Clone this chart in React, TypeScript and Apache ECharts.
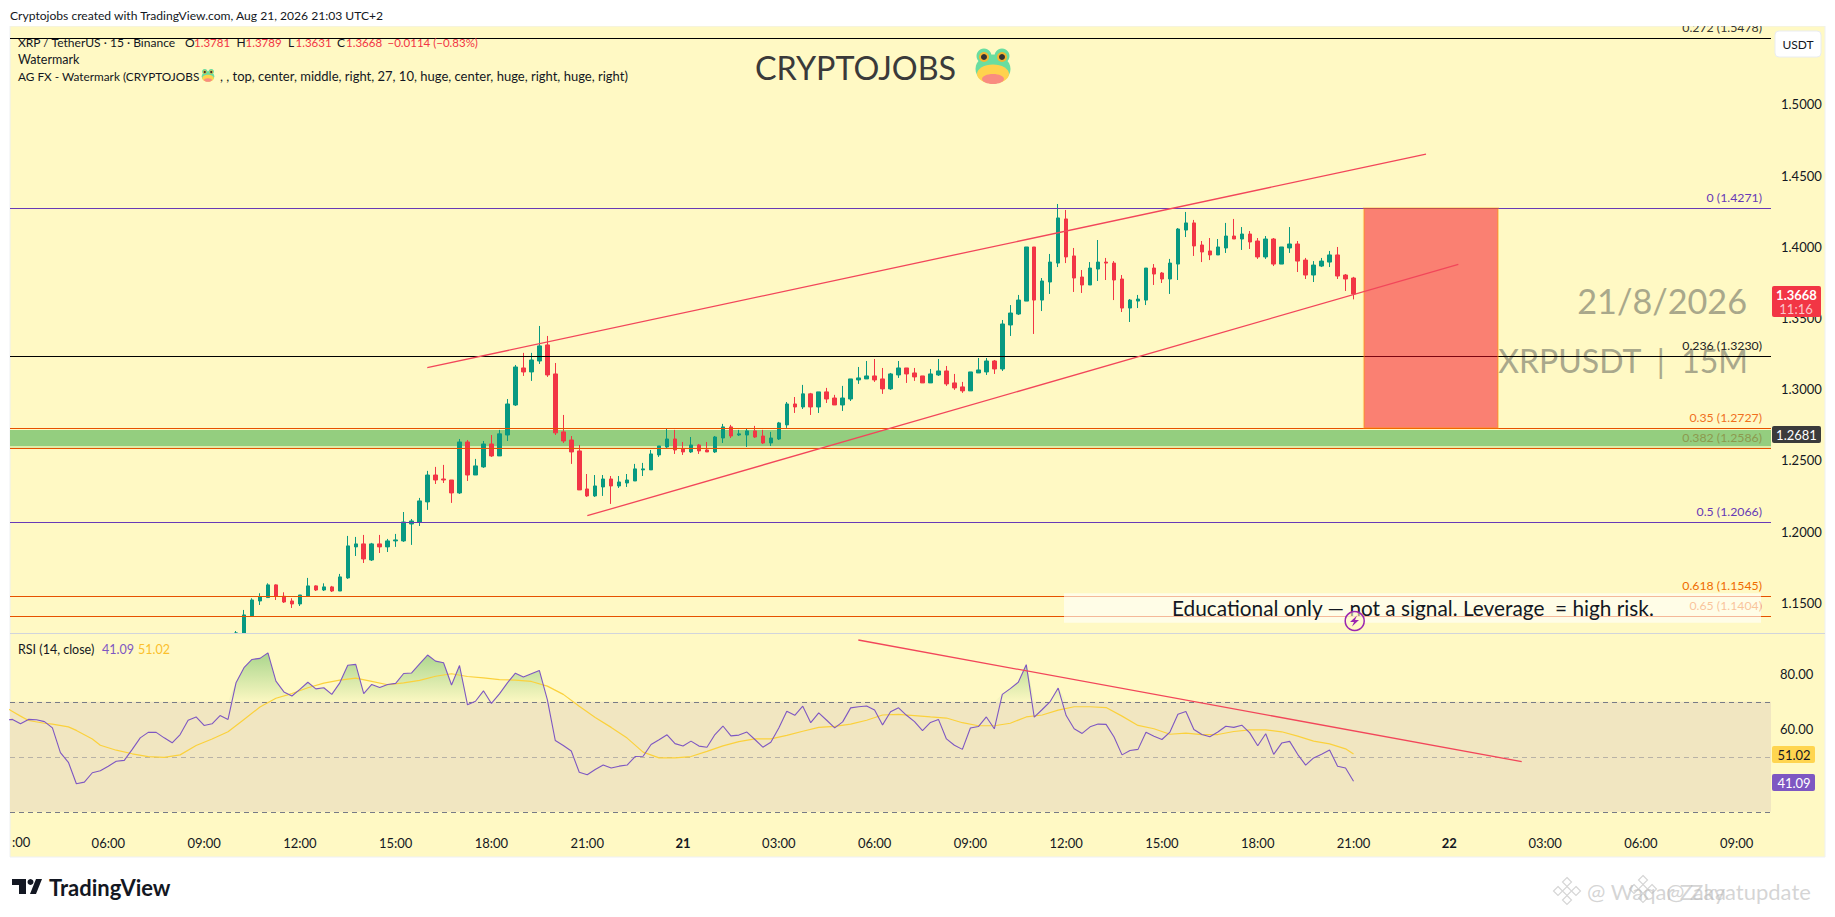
import React, { useEffect, useRef } from "react";
import * as echarts from "echarts";

// ---------- data ----------
const firstCandleIndex = 16; // index 0 = 20 Aug 06:00, one step = 15 minutes
// [open, close, low, high]; the first two run off the bottom of the price pane, so only their visible part is given
const candleRows: number[][] = [
  [1.1287,1.1287,1.1287,1.1301],[1.1287,1.1414,1.1287,1.1449],[1.1407,1.1519,1.1407,1.1531],[1.1512,1.1540,1.1484,1.1566],
  [1.1536,1.1625,1.1536,1.1636],[1.1625,1.1545,1.1519,1.1629],[1.1545,1.1505,1.1498,1.1573],[1.1512,1.1491,1.1463,1.1531],
  [1.1491,1.1554,1.1477,1.1554],[1.1547,1.1618,1.1547,1.1674],[1.1618,1.1589,1.1582,1.1622],[1.1589,1.1611,1.1582,1.1636],
  [1.1611,1.1582,1.1575,1.1618],[1.1582,1.1681,1.1582,1.1702],[1.1674,1.1899,1.1667,1.1969],[1.1892,1.1913,1.1828,1.1962],
  [1.1913,1.1807,1.1779,1.1976],[1.1800,1.1913,1.1793,1.1920],[1.1913,1.1892,1.1849,1.1976],[1.1892,1.1934,1.1856,1.1948],
  [1.1934,1.1941,1.1892,1.1983],[1.1934,1.2067,1.1927,1.2137],[1.2053,1.2074,1.1906,1.2088],[1.2067,1.2215,1.2039,1.2236],
  [1.2208,1.2397,1.2152,1.2426],[1.2397,1.2362,1.2334,1.2454],[1.2369,1.2362,1.2341,1.2468],[1.2362,1.2271,1.2201,1.2362],
  [1.2271,1.2629,1.2264,1.2650],[1.2629,1.2397,1.2355,1.2643],[1.2397,1.2461,1.2397,1.2510],[1.2454,1.2615,1.2447,1.2636],
  [1.2615,1.2531,1.2524,1.2678],[1.2531,1.2686,1.2531,1.2714],[1.2678,1.2896,1.2636,1.2931],[1.2889,1.3156,1.2882,1.3170],
  [1.3149,1.3121,1.3093,1.3255],[1.3121,1.3205,1.3058,1.3255],[1.3198,1.3304,1.3177,1.3444],[1.3311,1.3100,1.3086,1.3374],
  [1.3107,1.2693,1.2678,1.3184],[1.2700,1.2636,1.2622,1.2819],[1.2643,1.2559,1.2475,1.2671],[1.2566,1.2292,1.2292,1.2608],
  [1.2299,1.2250,1.2243,1.2404],[1.2250,1.2320,1.2243,1.2397],[1.2313,1.2369,1.2250,1.2397],[1.2369,1.2320,1.2194,1.2390],
  [1.2320,1.2348,1.2306,1.2390],[1.2341,1.2362,1.2313,1.2404],[1.2355,1.2440,1.2355,1.2475],[1.2433,1.2440,1.2390,1.2482],
  [1.2433,1.2545,1.2433,1.2573],[1.2538,1.2601,1.2524,1.2601],[1.2594,1.2650,1.2587,1.2721],[1.2650,1.2573,1.2545,1.2714],
  [1.2580,1.2559,1.2538,1.2629],[1.2559,1.2608,1.2552,1.2664],[1.2608,1.2566,1.2545,1.2615],[1.2573,1.2559,1.2559,1.2629],
  [1.2559,1.2664,1.2552,1.2671],[1.2657,1.2735,1.2622,1.2756],[1.2735,1.2671,1.2657,1.2749],[1.2678,1.2686,1.2671,1.2714],
  [1.2678,1.2707,1.2594,1.2721],[1.2707,1.2664,1.2657,1.2742],[1.2671,1.2622,1.2615,1.2714],[1.2622,1.2657,1.2601,1.2700],
  [1.2650,1.2763,1.2643,1.2770],[1.2749,1.2896,1.2728,1.2910],[1.2896,1.2875,1.2833,1.2945],[1.2875,1.2967,1.2861,1.3030],
  [1.2967,1.2875,1.2819,1.2974],[1.2875,1.2981,1.2833,1.2981],[1.2981,1.2931,1.2903,1.3009],[1.2938,1.2889,1.2889,1.2960],
  [1.2889,1.2938,1.2847,1.3023],[1.2931,1.3072,1.2917,1.3072],[1.3065,1.3079,1.3037,1.3156],[1.3072,1.3093,1.3072,1.3198],
  [1.3093,1.3065,1.3051,1.3212],[1.3072,1.3002,1.2967,1.3149],[1.3002,1.3107,1.2995,1.3114],[1.3100,1.3149,1.3079,1.3198],
  [1.3149,1.3107,1.3044,1.3149],[1.3114,1.3086,1.3058,1.3149],[1.3093,1.3044,1.3044,1.3093],[1.3044,1.3107,1.3044,1.3142],
  [1.3100,1.3128,1.3093,1.3212],[1.3128,1.3037,1.3023,1.3163],[1.3044,1.3009,1.2995,1.3107],[1.3016,1.2988,1.2974,1.3051],
  [1.2988,1.3121,1.2988,1.3121],[1.3114,1.3135,1.3114,1.3219],[1.3121,1.3198,1.3100,1.3219],[1.3198,1.3142,1.3107,1.3205],
  [1.3142,1.3458,1.3128,1.3486],[1.3451,1.3535,1.3374,1.3591],[1.3528,1.3626,1.3521,1.3662],[1.3619,1.3999,1.3619,1.3999],
  [1.3999,1.3626,1.3388,1.3999],[1.3626,1.3760,1.3549,1.3781],[1.3753,1.3893,1.3669,1.3950],[1.3886,1.4203,1.3858,1.4301],
  [1.4196,1.3929,1.3886,1.4259],[1.3936,1.3781,1.3683,1.3992],[1.3788,1.3732,1.3676,1.3837],[1.3732,1.3851,1.3732,1.3893],
  [1.3844,1.3893,1.3760,1.4048],[1.3893,1.3886,1.3767,1.3922],[1.3886,1.3767,1.3626,1.3900],[1.3774,1.3570,1.3542,1.3802],
  [1.3570,1.3626,1.3472,1.3633],[1.3619,1.3633,1.3570,1.3662],[1.3626,1.3851,1.3591,1.3851],[1.3851,1.3809,1.3732,1.3879],
  [1.3816,1.3774,1.3746,1.3823],[1.3774,1.3886,1.3669,1.3915],[1.3879,1.4125,1.3767,1.4132],[1.4118,1.4168,1.4069,1.4245],
  [1.4168,1.4006,1.3936,1.4189],[1.4013,1.3964,1.3893,1.4041],[1.3971,1.3943,1.3907,1.4062],[1.3943,1.3999,1.3943,1.4055],
  [1.3992,1.4076,1.3957,1.4168],[1.4076,1.4055,1.4055,1.4196],[1.4055,1.4090,1.3978,1.4139],[1.4090,1.4034,1.3985,1.4111],
  [1.4041,1.3929,1.3915,1.4062],[1.3929,1.4055,1.3915,1.4076],[1.4055,1.3879,1.3865,1.4062],[1.3879,1.3999,1.3879,1.3999],
  [1.3992,1.4020,1.3957,1.4139],[1.4020,1.3900,1.3823,1.4041],[1.3907,1.3802,1.3774,1.3922],[1.3802,1.3872,1.3753,1.3900],
  [1.3865,1.3900,1.3858,1.3922],[1.3893,1.3943,1.3858,1.3971],[1.3943,1.3795,1.3774,1.3999],[1.3802,1.3774,1.3690,1.3809],
  [1.3781,1.3668,1.3631,1.3789],
];

const firstRsiIndex = -13;
const rsiValues: number[] = [
  63.3,63.6,62.0,63.6,63.5,62.8,60.5,51.5,48.0,40.2,40.8,44.2,44.9,46.6,48.4,48.7,52.7,56.9,58.9,58.9,
  56.9,55.1,58.1,63.3,64.5,61.4,62.0,65.0,63.6,76.9,82.4,85.4,85.8,87.8,77.5,73.6,72.1,74.5,77.1,74.7,
  75.1,72.7,76.9,83.3,83.6,73.0,76.3,75.2,76.3,76.7,80.3,80.5,83.8,87.0,84.8,84.2,76.1,83.2,68.9,70.2,
  74.0,69.4,72.9,76.9,80.4,79.0,80.2,81.4,70.8,55.9,54.1,52.1,44.4,43.5,45.4,47.0,45.9,46.6,47.0,50.1,
  50.2,54.5,56.2,58.0,54.8,53.9,55.7,53.9,53.5,58.1,61.2,57.6,57.9,59.0,56.3,53.5,55.3,60.5,66.6,65.1,
  68.4,62.4,66.0,63.3,60.5,62.7,67.8,68.2,68.5,67.0,61.6,66.4,67.8,65.1,62.8,59.5,62.5,63.6,56.5,54.2,
  52.7,60.5,61.0,64.5,60.2,72.7,74.8,77.1,83.5,64.4,67.2,70.1,75.0,65.0,60.2,58.5,60.9,61.9,61.8,57.2,
  50.7,52.3,52.7,58.9,57.5,56.3,59.0,65.5,66.5,59.9,58.1,57.3,59.0,61.1,60.7,61.5,58.7,54.0,58.4,50.9,
  55.0,55.6,50.9,47.0,49.6,50.9,52.5,46.6,45.9,41.09,
];
const rsiMaIndex: number[] = [
  -13,-12,-11,-10,-8,-7,-5,-4,-2,-1,1,3,5,7,9,11,13,15,17,19,21,23,25,27,29,31,33,35,37,39,41,43,45,47,49,51,53,55,57,59,61,63,
  65,67,69,71,73,75,77,79,81,83,85,87,89,91,93,95,97,99,101,103,105,107,109,111,113,115,117,119,121,123,125,127,129,131,133,135,137,139,
  141,143,145,147,149,151,153,155,156,
];
const rsiMaValues: number[] = [
  68.2,66.5,64.8,63.2,62.2,61.9,60.9,59.6,56.5,54.2,52.4,51.1,50.1,49.8,50.7,54.1,56.5,59.1,63.6,68.1,71.3,73.0,75.1,76.8,77.9,78.6,77.4,76.2,76.9,77.8,79.3,80.2,79.2,78.7,78.1,77.9,77.4,75.7,72.7,68.4,64.3,60.7,
  56.8,51.7,49.6,49.6,50.1,52.0,54.0,55.5,56.5,56.5,57.8,59.3,60.7,61.1,61.9,63.3,65.2,65.4,65.0,64.5,64.1,62.4,61.3,61.3,62.2,64.5,65.2,67.0,68.2,68.2,67.9,64.8,61.4,60.2,58.2,58.6,58.1,58.1,
  59.2,59.8,59.8,59.1,57.5,55.7,54.7,52.9,51.02,
];

const fibNames = ["0.272 (1.5478)","0 (1.4271)","0.236 (1.3230)","0.35 (1.2727)","0.382 (1.2586)","0.5 (1.2066)","0.618 (1.1545)","0.65 (1.1404)"];
const fibPrices = [1.5465,1.4271,1.3230,1.2727,1.2586,1.2066,1.1545,1.1404];
const hiddenFibName = "0.786 (1.1175)";

const upperChannelIndex = [39.96,165.08];
const upperChannelPrice = [1.3151,1.4652];
const lowerChannelIndex = [60.01,169.13];
const lowerChannelPrice = [1.2111,1.3877];
const rsiTrendIndex = [93.96,177.07];
const rsiTrendValue = [92.47,48.22];

const priceTicks = [1.15,1.2,1.25,1.3,1.35,1.4,1.45,1.5];
const rsiTicks = [60,80];
const rsiLevels = [70,50,30];
const timeTickIndex = [0,12,24,36,48,60,72,84,96,108,120,132,144,156,168,180,192,204];
const timeTickLabels = ["06:00","09:00","12:00","15:00","18:00","21:00","21","03:00","06:00","09:00","12:00","15:00","18:00","21:00","22","03:00","06:00","09:00"];

const zoneIndex = [157.3,174.1];
const zonePrice = [1.4271,1.2727];
const bandPrice = [1.2713,1.2601,1.2587];
const noticeIndex = [119.73,207.05];
const noticePrice = [1.1566,1.1359];

// ---------- styles ----------
const FONT = "Lato, 'Noto Sans', sans-serif";
const PANE = "#FFF9C4";
const UP = "#089981";
const DOWN = "#F23645";
const PURPLE = "#673AB7";
const ORANGE = "#E65100";
const fibLineColors = ["#000000",PURPLE,"#000000",ORANGE,ORANGE,PURPLE,ORANGE,ORANGE];
const fibLabelColors = ["#333333",PURPLE,"#222222","#F0701E","#8C9A4E",PURPLE,"#EF6C00","#EF6C00"];
const X_MIN = -12.315;
const X_MAX = 208.3;

const T = (text: string, x: number, y: number, size: number, fill: string, z = 20, align = "left", weight: any = "normal") => ({
  type: "text", x, y, z, silent: true,
  style: { text, fill, fontSize: size, fontFamily: FONT, fontWeight: weight, align, verticalAlign: "middle" },
});

const frog = (x: number, y: number, s: number, z: number) => ({
  type: "group", x, y, scaleX: s, scaleY: s, silent: true,
  children: [
    { type: "circle", z, shape: { cx: -9, cy: -12, r: 7.5 }, style: { fill: "#69DDA0" } },
    { type: "circle", z, shape: { cx: 9, cy: -12, r: 7.5 }, style: { fill: "#69DDA0" } },
    { type: "ellipse", z: z + 1, shape: { cx: 0, cy: 1, rx: 17.5, ry: 14.5 }, style: { fill: "#69DDA0" } },
    { type: "ellipse", z: z + 2, shape: { cx: 0, cy: 6, rx: 16, ry: 9.5 }, style: { fill: "#FFD24D" } },
    { type: "ellipse", z: z + 3, shape: { cx: 0, cy: 11, rx: 11, ry: 5 }, style: { fill: "#F98C80" } },
    { type: "circle", z: z + 4, shape: { cx: -9, cy: -11, r: 5 }, style: { fill: "#F2B632" } },
    { type: "circle", z: z + 4, shape: { cx: 9, cy: -11, r: 5 }, style: { fill: "#F2B632" } },
    { type: "circle", z: z + 5, shape: { cx: -9, cy: -11, r: 3 }, style: { fill: "#333333" } },
    { type: "circle", z: z + 5, shape: { cx: 9, cy: -11, r: 3 }, style: { fill: "#333333" } },
  ],
});

const diamond = (cx: number, cy: number) => ({
  type: "group", x: cx, y: cy, silent: true,
  children: [[0, -9], [-9, 0], [9, 0], [0, 9], [0, 0]].map(([dx, dy]) => ({
    type: "polygon", z: 3,
    shape: { points: [[dx, dy - 4.5], [dx + 4.5, dy], [dx, dy + 4.5], [dx - 4.5, dy]] },
    style: { fill: "none", stroke: "#D6D6D6", lineWidth: 1.2 },
  })),
});

const tag = (x: number, y: number, w: number, h: number, fill: string) => ({
  type: "rect", z: 18, silent: true, shape: { x, y, width: w, height: h, r: 2 }, style: { fill },
});

function buildOption() {
  const candleData = candleRows.map((r, i) => [firstCandleIndex + i, r[0], r[1], r[2], r[3]]);
  const rsiData = rsiValues.map((v, i) => [firstRsiIndex + i, v]);
  const rsiTop = rsiValues.map((v, i) => [firstRsiIndex + i, Math.max(v, 70)]);
  const maData = rsiMaValues.map((v, i) => [rsiMaIndex[i], v]);
  const timeLabelOf: Record<number, string> = {};
  timeTickIndex.forEach((t, i) => (timeLabelOf[t] = timeTickLabels[i]));

  const graphic: any[] = [
    { type: "rect", z: -5, silent: true, shape: { x: 10, y: 26, width: 1815, height: 831 }, style: { fill: PANE, stroke: "#EEF0F3", lineWidth: 1 } },
    // cover for the label that runs off the top of the pane
    { type: "rect", z: 8, silent: true, shape: { x: 0, y: 0, width: 1835, height: 26 }, style: { fill: "#FFFFFF" } },
    T("Cryptojobs created with TradingView.com, Aug 21, 2026 21:03 UTC+2", 10, 15, 12.1, "#131722", 9),
    // legend
    T("XRP / TetherUS · 15 · Binance", 18, 42, 12.05, "#131722", 9),
    T("O", 185, 42, 12, "#131722", 9),
    T("1.3781", 194, 42, 11.5, DOWN, 9),
    T("H", 236.6, 42, 12, "#131722", 9),
    T("1.3789", 245.5, 42, 11.5, DOWN, 9),
    T("L", 288, 42, 12, "#131722", 9),
    T("1.3631", 295.5, 42, 11.5, DOWN, 9),
    T("C", 337, 42, 12, "#131722", 9),
    T("1.3668", 346, 42, 11.5, DOWN, 9),
    T("−0.0114 (−0.83%)", 387.5, 42, 11.5, DOWN, 9),
    T("Watermark", 18, 59, 12.5, "#131722", 9),
    T("AG FX - Watermark (CRYPTOJOBS", 18, 76, 11.8, "#131722", 9),
    frog(208, 76, 0.36, 9),
    T(", , top, center, middle, right, 27, 10, huge, center, huge, right, huge, right)", 220, 76, 13, "#131722", 9),
    // watermark texts
    T("CRYPTOJOBS", 755, 67, 32.3, "#3A3A3A", 4),
    frog(993, 68, 1, 4),
    T("21/8/2026", 1747, 300, 34.2, "#A9A88B", 1, "right"),
    T("XRPUSDT  |  15M", 1748, 360, 32, "#A9A88B", 1, "right"),
    // notice
    T("Educational only — not a signal. Leverage  = high risk.", 1172, 607, 20.8, "#131722", 12),
    { type: "circle", z: 13, silent: true, shape: { cx: 1354.7, cy: 621, r: 9.5 }, style: { fill: "rgba(255,249,196,0.6)", stroke: "#9C27B0", lineWidth: 1.5 } },
    { type: "polygon", z: 14, silent: true, shape: { points: [[1357, 615.5], [1350, 622], [1354, 622], [1352, 626.5], [1359, 620], [1355, 620]] }, style: { fill: "#9C27B0" } },
    // hidden 0.786 label: cut by the RSI pane
    T(hiddenFibName, 1762, 637, 12.3, PURPLE, 9, "right"),
    { type: "rect", z: 10, silent: true, shape: { x: 1600, y: 633, width: 170, height: 14 }, style: { fill: PANE } },
    // separator
    { type: "line", z: 11, silent: true, shape: { x1: 10, y1: 633.5, x2: 1825, y2: 633.5 }, style: { stroke: "#D1D4DC", lineWidth: 1 } },
    // price scale tags
    { type: "rect", z: 18, silent: true, shape: { x: 1775, y: 31, width: 46, height: 26, r: 4 }, style: { fill: "#FFFFFF", stroke: "#E9ECF1", lineWidth: 1 } },
    T("USDT", 1798, 44.5, 12, "#131722", 19, "center"),
    tag(1772, 286, 49, 31, DOWN),
    T("1.3668", 1796.5, 294.5, 13, "#FFFFFF", 19, "center", "bold"),
    T("11:16", 1796, 309, 13, "rgba(255,255,255,0.72)", 19, "center"),
    tag(1772, 426, 49, 17, "#3B3B3B"),
    T("1.2681", 1796.5, 434.5, 13, "#FFFFFF", 19, "center"),
    tag(1772, 746, 43, 17, "#FFD54F"),
    T("51.02", 1794, 754.5, 13, "#131722", 19, "center"),
    tag(1772, 774, 43, 17, "#7E57C2"),
    T("41.09", 1794, 782.5, 13, "#FFFFFF", 19, "center"),
    // RSI legend
    T("RSI (14, close)", 18, 649, 12.5, "#131722", 9),
    T("41.09", 102, 649, 12.5, "#7E57C2", 9),
    T("51.02", 138, 649, 12.5, "#FBC02D", 9),
    T(":00", 12, 842, 13, "#131722", 9),
    // footer logo
    { type: "rect", z: 5, silent: true, shape: { x: 12, y: 879, width: 14, height: 6 }, style: { fill: "#131722" } },
    { type: "rect", z: 5, silent: true, shape: { x: 19, y: 879, width: 7, height: 15 }, style: { fill: "#131722" } },
    { type: "circle", z: 5, silent: true, shape: { cx: 30.5, cy: 882, r: 3 }, style: { fill: "#131722" } },
    { type: "polygon", z: 5, silent: true, shape: { points: [[36, 879], [42, 879], [36, 894], [30, 894]] }, style: { fill: "#131722" } },
    T("TradingView", 49, 887, 22, "#131722", 5, "left", 700),
    // ghost watermark
    diamond(1567, 891),
    diamond(1643, 889),
    T("@ Waqar Zaka", 1587, 891, 22, "rgba(185,185,185,0.6)", 4),
    T("@ Zayatupdate", 1666, 891, 22, "rgba(185,185,185,0.6)", 4),
  ];

  const markLineData = fibNames.map((name, i) => ({
    yAxis: fibPrices[i],
    lineStyle: { color: fibLineColors[i], width: 1.2, type: "solid", opacity: 1 },
    label: { show: true, position: "insideEndTop", distance: [9, 5], formatter: name, color: fibLabelColors[i], fontFamily: FONT, fontSize: 12.3 },
  }));

  return {
    animation: false,
    backgroundColor: "#FFFFFF",
    textStyle: { fontFamily: FONT },
    graphic,
    grid: [
      { left: 10, top: 26, width: 1761, height: 607, containLabel: false },
      { left: 10, top: 633, width: 1761, height: 196, containLabel: false },
    ],
    xAxis: [
      { type: "value", gridIndex: 0, min: X_MIN, max: X_MAX, show: false, splitLine: { show: false } },
      {
        type: "value", gridIndex: 1, min: X_MIN, max: X_MAX, splitLine: { show: false },
        axisLine: { show: false }, axisTick: { show: false },
        axisLabel: {
          customValues: timeTickIndex, margin: 7, color: "#131722", fontFamily: FONT, fontSize: 13,
          formatter: (v: number) => {
            const s = timeLabelOf[v] ?? "";
            return s.length === 2 ? `{d|${s}}` : s;
          },
          rich: { d: { fontWeight: "bold", fontSize: 13, color: "#131722", fontFamily: FONT } },
        },
      },
    ],
    yAxis: [
      {
        type: "value", gridIndex: 0, position: "right", min: 1.1287, max: 1.55515, scale: true,
        splitLine: { show: false }, axisLine: { show: false }, axisTick: { show: false },
        axisLabel: { customValues: priceTicks, margin: 10, color: "#131722", fontFamily: FONT, fontSize: 13, formatter: (v: number) => v.toFixed(4) },
      },
      {
        type: "value", gridIndex: 1, position: "right", min: 23.75, max: 95.02, scale: true,
        splitLine: { show: false }, axisLine: { show: false }, axisTick: { show: false },
        axisLabel: { customValues: rsiTicks, margin: 9, color: "#131722", fontFamily: FONT, fontSize: 13, formatter: (v: number) => v.toFixed(2) },
      },
    ],
    series: [
      {
        type: "candlestick", name: "XRPUSDT", xAxisIndex: 0, yAxisIndex: 0, data: candleData, barWidth: 4, clip: true, z: 2,
        itemStyle: { color: UP, color0: DOWN, borderColor: UP, borderColor0: DOWN, borderWidth: 1 },
        markArea: {
          silent: true, z: 1, label: { show: false },
          data: [
            [{ xAxis: X_MIN, yAxis: bandPrice[0], itemStyle: { color: "#94CE7F", opacity: 1 } }, { xAxis: X_MAX, yAxis: bandPrice[1] }],
            [{ xAxis: X_MIN, yAxis: bandPrice[1], itemStyle: { color: "#E0EBA8", opacity: 1 } }, { xAxis: X_MAX, yAxis: bandPrice[2] }],
          ],
        },
        markLine: { silent: true, z: 5, symbol: "none", precision: 4, data: markLineData },
      },
      {
        type: "line", name: "Upper channel", xAxisIndex: 0, yAxisIndex: 0, z: 8, symbol: "none", silent: true,
        data: upperChannelIndex.map((x, i) => [x, upperChannelPrice[i]]),
        lineStyle: { color: "#F2465A", width: 1.3 },
        markArea: {
          silent: true, z: 6, label: { show: false },
          data: [
            [{ xAxis: zoneIndex[0], yAxis: zonePrice[0], itemStyle: { color: "rgba(245,7,32,0.5)", borderColor: "rgba(255,152,0,0.35)", borderWidth: 2 } }, { xAxis: zoneIndex[1], yAxis: zonePrice[1] }],
            [{ xAxis: noticeIndex[0], yAxis: noticePrice[0], itemStyle: { color: "rgba(255,255,255,0.6)", borderWidth: 0 } }, { xAxis: noticeIndex[1], yAxis: noticePrice[1] }],
          ],
        },
      },
      {
        type: "line", name: "Lower channel", xAxisIndex: 0, yAxisIndex: 0, z: 8, symbol: "none", silent: true,
        data: lowerChannelIndex.map((x, i) => [x, lowerChannelPrice[i]]),
        lineStyle: { color: "#F2465A", width: 1.3 },
      },
      {
        type: "line", name: "RSI fill", xAxisIndex: 1, yAxisIndex: 1, z: 2, symbol: "none", silent: true,
        data: rsiTop, lineStyle: { width: 0, opacity: 0 },
        areaStyle: {
          origin: 70, opacity: 1,
          color: new echarts.graphic.LinearGradient(0, 645, 0, 702, [
            { offset: 0, color: "rgba(76,175,80,0.55)" },
            { offset: 1, color: "rgba(76,175,80,0.02)" },
          ], true),
        },
        markArea: {
          silent: true, z: 1, label: { show: false },
          data: [[{ xAxis: X_MIN, yAxis: rsiLevels[0], itemStyle: { color: "#F1E6C1", opacity: 1 } }, { xAxis: X_MAX, yAxis: rsiLevels[2] }]],
        },
        markLine: {
          silent: true, z: 1.5, symbol: "none", label: { show: false },
          data: rsiLevels.map((v, i) => ({ yAxis: v, lineStyle: { color: i === 1 ? "#B8B2A6" : "#787B86", width: 1, type: [5, 4], opacity: 1 } })),
        },
      },
      {
        type: "line", name: "RSI MA", xAxisIndex: 1, yAxisIndex: 1, z: 3, symbol: "none", silent: true,
        data: maData, lineStyle: { color: "#FBD13C", width: 1.2 },
      },
      {
        type: "line", name: "RSI", xAxisIndex: 1, yAxisIndex: 1, z: 4, symbol: "none", silent: true,
        data: rsiData, lineStyle: { color: "#7E57C2", width: 1.1 },
      },
      {
        type: "line", name: "RSI trend", xAxisIndex: 1, yAxisIndex: 1, z: 8, symbol: "none", silent: true,
        data: rsiTrendIndex.map((x, i) => [x, rsiTrendValue[i]]),
        lineStyle: { color: "#F2465A", width: 1.3 },
      },
    ],
  };
}

export default function App() {
  const ref = useRef<HTMLDivElement>(null);
  useEffect(() => {
    document.body.style.margin = "0";
    const chart = echarts.init(ref.current!, undefined, { renderer: "svg" });
    chart.setOption(buildOption() as any);
    return () => chart.dispose();
  }, []);
  return <div ref={ref} style={{ width: 1835, height: 917 }} />;
}
